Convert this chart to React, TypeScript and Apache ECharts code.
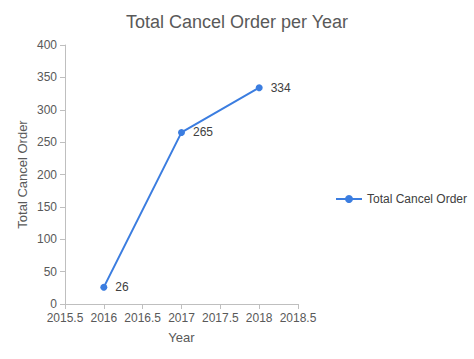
import React, { useEffect, useRef } from "react";
import * as echarts from "echarts";

const years = [2016, 2017, 2018];
const cancels = [26, 265, 334];
const seriesName = "Total Cancel Order";

export default function App() {
  const ref = useRef<HTMLDivElement>(null);
  useEffect(() => {
    if (!ref.current) return;
    const chart = echarts.init(ref.current, undefined, { renderer: "svg" });
    const font = "'Liberation Sans', Arial, sans-serif";
    chart.setOption({
      animation: false,
      backgroundColor: "#ffffff",
      textStyle: { fontFamily: font },
      title: {
        text: "Total Cancel Order per Year",
        left: "center",
        top: 8,
        textStyle: { fontSize: 18, fontWeight: "normal", color: "#595959", fontFamily: font },
      },
      legend: {
        orient: "vertical",
        left: 330,
        top: 188,
        itemWidth: 26,
        itemHeight: 10,
        itemGap: 10,
        textStyle: { fontSize: 12, color: "#404040", fontFamily: font },
        data: [seriesName],
      },
      grid: { left: 65, right: 176, top: 45, bottom: 55, containLabel: false },
      xAxis: {
        type: "value",
        min: 2015.5,
        max: 2018.5,
        interval: 0.5,
        name: "Year",
        nameLocation: "middle",
        nameGap: 27,
        nameTextStyle: { fontSize: 13, color: "#595959", fontFamily: font },
        axisLine: { show: true, lineStyle: { color: "#bfbfbf" } },
        axisTick: { show: true, length: 5, lineStyle: { color: "#bfbfbf" } },
        axisLabel: {
          fontSize: 12,
          color: "#595959",
          margin: 8,
          fontFamily: font,
          formatter: (v: number) => String(v),
        },
        splitLine: { show: false },
      },
      yAxis: {
        type: "value",
        min: 0,
        max: 400,
        interval: 50,
        name: "Total Cancel Order",
        nameLocation: "middle",
        nameRotate: 90,
        nameGap: 36,
        nameTextStyle: { fontSize: 13, color: "#595959", fontFamily: font },
        axisLine: { show: true, lineStyle: { color: "#bfbfbf" } },
        axisTick: { show: true, length: 5, lineStyle: { color: "#bfbfbf" } },
        axisLabel: { fontSize: 12, color: "#595959", margin: 8, fontFamily: font },
        splitLine: { show: false },
      },
      series: [
        {
          name: seriesName,
          type: "line",
          data: years.map((y, i) => [y, cancels[i]]),
          symbol: "circle",
          symbolSize: 7,
          color: "#3b7de0",
          lineStyle: { width: 2, color: "#3b7de0" },
          itemStyle: { color: "#3b7de0" },
          label: {
            show: true,
            position: "right",
            distance: 8,
            fontSize: 12,
            color: "#404040",
            fontFamily: font,
            formatter: (p: any) => String(p.value[1]),
          },
        },
      ],
    });
    return () => chart.dispose();
  }, []);
  return (
    <div
      ref={ref}
      style={{ position: "fixed", left: 0, top: 0, width: 474, height: 359 }}
    />
  );
}
